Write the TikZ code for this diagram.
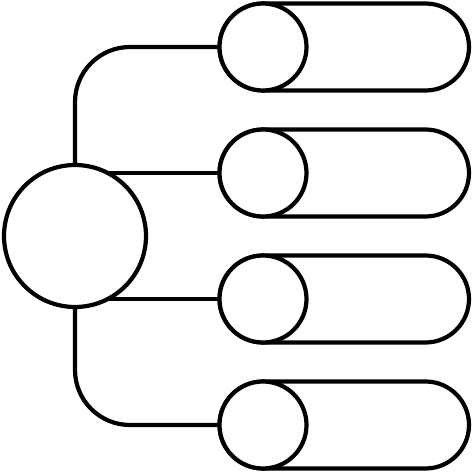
\documentclass[tikz,border=0pt]{standalone}
\usetikzlibrary{backgrounds}
\begin{document}
\begin{tikzpicture}[x=1pt,y=-1pt,
  hub/.style={circle,draw,line width=4.2pt,fill=white,minimum size=142pt,inner sep=0pt,outer sep=0pt},
  pill/.style={rectangle,draw,line width=4.2pt,fill=white,rounded corners=43.5pt,minimum width=249.5pt,minimum height=87pt,inner sep=0pt,outer sep=0pt,anchor=west},
  knob/.style={circle,draw,line width=4.2pt,fill=white,minimum size=87pt,inner sep=0pt,outer sep=0pt},
  link/.style={draw,line width=4.2pt,rounded corners=55pt}]
\useasboundingbox (0,0) rectangle (474,473);
\node[hub] (hub) at (75,236) {};
\node[pill] (p1) at (219.5,47) {};
\node[knob] (k1) at (263,47) {};
\node[pill] (p2) at (219.5,173) {};
\node[knob] (k2) at (263,173) {};
\node[pill] (p3) at (219.5,299) {};
\node[knob] (k3) at (263,299) {};
\node[pill] (p4) at (219.5,425) {};
\node[knob] (k4) at (263,425) {};
\begin{pgfonlayer}{background}
\draw[link] (hub.north) |- (k1.west);
\draw[link] (k2.west) -- (k2.west -| hub.center);
\draw[link] (k3.west) -- (k3.west -| hub.center);
\draw[link] (hub.south) |- (k4.west);
\end{pgfonlayer}
\end{tikzpicture}
\end{document}
